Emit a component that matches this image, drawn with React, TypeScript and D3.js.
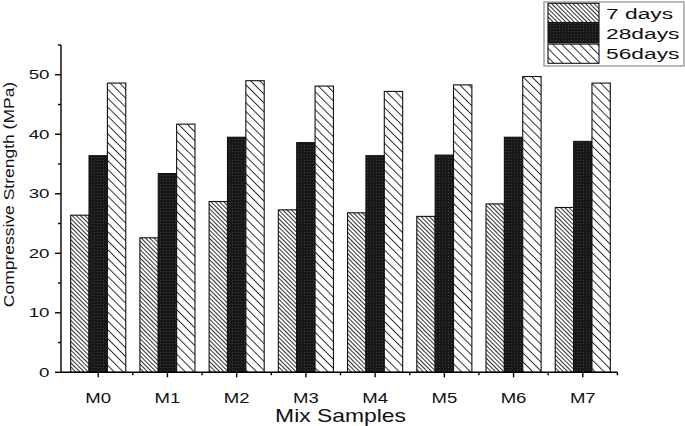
import { useEffect, useRef } from "react";
import * as d3 from "d3";

const samples = ["M0", "M1", "M2", "M3", "M4", "M5", "M6", "M7"];
const seriesNames = ["7 days", "28days", "56days"];
const strength7 = [26.4, 22.6, 28.7, 27.3, 26.8, 26.2, 28.3, 27.7];
const strength28 = [36.4, 33.4, 39.5, 38.6, 36.4, 36.5, 39.5, 38.8];
const strength56 = [48.6, 41.7, 49.0, 48.1, 47.2, 48.3, 49.7, 48.6];
const yMajorTicks = [0, 10, 20, 30, 40, 50];
const yMinorTicks = [5, 15, 25, 35, 45, 55];

const FONT = "'Liberation Sans', Arial, sans-serif";
const fills = ["url(#hatchDense)", "url(#dotsDark)", "url(#hatchSparse)"];

export default function App() {
  const svgRef = useRef<SVGSVGElement>(null);

  useEffect(() => {
    if (!svgRef.current) return;
    const width = 685;
    const height = 426;
    const svg = d3.select(svgRef.current).attr("width", width).attr("height", height);
    svg.selectAll("*").remove();

    const axisX = 61;
    const x = d3.scaleBand<string>().domain(samples).range([63.6, 617.4]).paddingInner(0).paddingOuter(0);
    const inner = d3
      .scaleBand<string>()
      .domain(seriesNames)
      .range([0, x.bandwidth()])
      .paddingInner(0)
      .paddingOuter(0.385);
    const y = d3.scaleLinear().domain([0, 55]).range([372.3, 45]);

    // fill patterns
    const defs = svg.append("defs");
    const hatch = (id: string, gap: number) => {
      const p = defs
        .append("pattern")
        .attr("id", id)
        .attr("patternUnits", "userSpaceOnUse")
        .attr("width", gap)
        .attr("height", gap)
        .attr("patternTransform", "rotate(-45)");
      p.append("rect").attr("width", gap).attr("height", gap).attr("fill", "#ffffff");
      p.append("line")
        .attr("x1", 0.5)
        .attr("x2", 0.5)
        .attr("y1", 0)
        .attr("y2", gap)
        .attr("stroke", "#1a1a1a")
        .attr("stroke-width", 0.9);
    };
    hatch("hatchDense", 3);
    hatch("hatchSparse", 6.3);
    const dots = defs
      .append("pattern")
      .attr("id", "dotsDark")
      .attr("patternUnits", "userSpaceOnUse")
      .attr("width", 3)
      .attr("height", 3);
    dots.append("rect").attr("width", 3).attr("height", 3).attr("fill", "#181818");
    dots.append("rect").attr("x", 1).attr("y", 1).attr("width", 1).attr("height", 1).attr("fill", "#3c3c3c");

    const values = [strength7, strength28, strength56];

    // bars
    values.forEach((vals, si) => {
      svg
        .append("g")
        .selectAll("rect")
        .data(samples)
        .join("rect")
        .attr("x", (d) => x(d)! + inner(seriesNames[si])!)
        .attr("y", (_, i) => y(vals[i]))
        .attr("width", inner.bandwidth())
        .attr("height", (_, i) => y(0) - y(vals[i]))
        .attr("fill", fills[si])
        .attr("stroke", "#111111")
        .attr("stroke-width", 1.1);
    });

    const ax = svg.append("g").attr("stroke", "#000000").attr("stroke-width", 1.4);

    // y axis with major/minor ticks
    ax.append("line").attr("x1", axisX).attr("x2", axisX).attr("y1", y(0) + 0.7).attr("y2", y(55));
    yMajorTicks.forEach((v) => {
      ax.append("line").attr("x1", axisX - 6).attr("x2", axisX).attr("y1", y(v)).attr("y2", y(v));
    });
    yMinorTicks.forEach((v) => {
      ax.append("line").attr("x1", axisX - 3).attr("x2", axisX).attr("y1", y(v)).attr("y2", y(v));
    });

    // x axis with major ticks at categories and minor ticks at band edges
    ax.append("line").attr("x1", axisX).attr("x2", x.range()[1]).attr("y1", y(0)).attr("y2", y(0));
    samples.forEach((s) => {
      const cx = x(s)! + x.bandwidth() / 2;
      ax.append("line").attr("x1", cx).attr("x2", cx).attr("y1", y(0)).attr("y2", y(0) + 5);
      const ex = x(s)! + x.bandwidth();
      ax.append("line").attr("x1", ex).attr("x2", ex).attr("y1", y(0)).attr("y2", y(0) + 3);
    });

    const label = (
      tx: number,
      ty: number,
      text: string,
      size: number,
      sx: number,
      anchor: string,
      rotate = 0,
    ) =>
      svg
        .append("text")
        .attr("transform", `translate(${tx},${ty}) rotate(${rotate}) scale(${sx},1)`)
        .attr("text-anchor", anchor)
        .style("font-family", FONT)
        .style("font-size", `${size}px`)
        .style("fill", "#111111")
        .text(text);

    yMajorTicks.forEach((v) => label(49.5, y(v) + 4.5, String(v), 12.5, 1.5, "end"));
    samples.forEach((s) => label(x(s)! + x.bandwidth() / 2, 403, s, 14.5, 1.28, "middle"));

    label(340.5, 421.5, "Mix Samples", 18, 1.27, "middle");
    label(13.5, 194.5, "Compressive Strength (MPa)", 14, 1.25, "middle", -90);

    // legend box
    const legend = svg.append("g");
    legend
      .append("rect")
      .attr("x", 544)
      .attr("y", 2)
      .attr("width", 140)
      .attr("height", 64)
      .attr("fill", "#ffffff")
      .attr("stroke", "#8a8a8a")
      .attr("stroke-width", 1.2);
    seriesNames.forEach((name, i) => {
      const ry = 3.3 + i * 20.4;
      legend
        .append("rect")
        .attr("x", 548)
        .attr("y", ry)
        .attr("width", 51)
        .attr("height", 19.2)
        .attr("fill", fills[i])
        .attr("stroke", "#111111")
        .attr("stroke-width", 1.1);
      label(606, ry + 15.2, name, 15.5, 1.47, "start");
    });
  }, []);

  return (
    <svg
      ref={svgRef}
      style={{ position: "absolute", left: 0, top: 0, display: "block", background: "#ffffff" }}
    />
  );
}
